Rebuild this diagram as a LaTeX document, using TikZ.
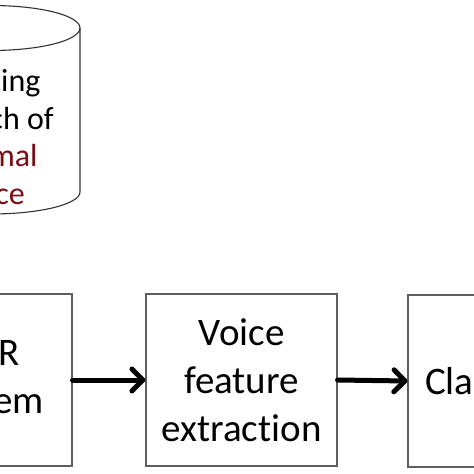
\documentclass[tikz,border=0pt]{standalone}
\usepackage{fontspec}
\setmainfont{Carlito}[Ligatures={NoCommon}]
\usetikzlibrary{arrows.meta}
\definecolor{darkred}{RGB}{122,14,22}
\definecolor{boxgray}{RGB}{95,95,95}
\begin{document}
\begin{tikzpicture}[x=1pt,y=-1pt,
  stagebox/.style={draw=boxgray,line width=1.1pt,minimum height=172pt,inner sep=0pt,align=center,
    font=\fontsize{39}{48}\selectfont},
  flow/.style={line width=5pt,-{Straight Barb[length=11pt,width=22pt,round]},line cap=round,line join=round},
  cyl/.style={draw=black!80,line width=1.1pt}]
\useasboundingbox (0,0) rectangle (474,474);
\fill[white] (0,0) rectangle (474,474);
\clip (0,0) rectangle (474,474);
% cylinder (database)
\draw[cyl] (-9,28) ellipse [x radius=89, y radius=22.5];
\draw[cyl] (80,28) -- (80,192) arc[start angle=0, end angle=180, x radius=89, y radius=22] -- (-98,28);
\node[inner sep=0pt,align=center,font=\fontsize{32}{37.5}\selectfont] (db) at (-9,137)
  {Existing\\speech of\\\textcolor{darkred}{normal}\\\textcolor{darkred}{voice}};
% stage boxes
\node[stagebox,minimum width=166pt] (asr) at (-11,380) {ASR\\system};
\node[stagebox,minimum width=191pt] (vfe) at (241.5,380) {Voice\\feature\\extraction};
\node[stagebox,minimum width=176pt] (cls) at (496,381) {Classifier};
% connectors
\draw[flow] (asr.east) -- (vfe.west);
\draw[flow] (vfe.east) -- (cls.west);
\end{tikzpicture}
\end{document}
